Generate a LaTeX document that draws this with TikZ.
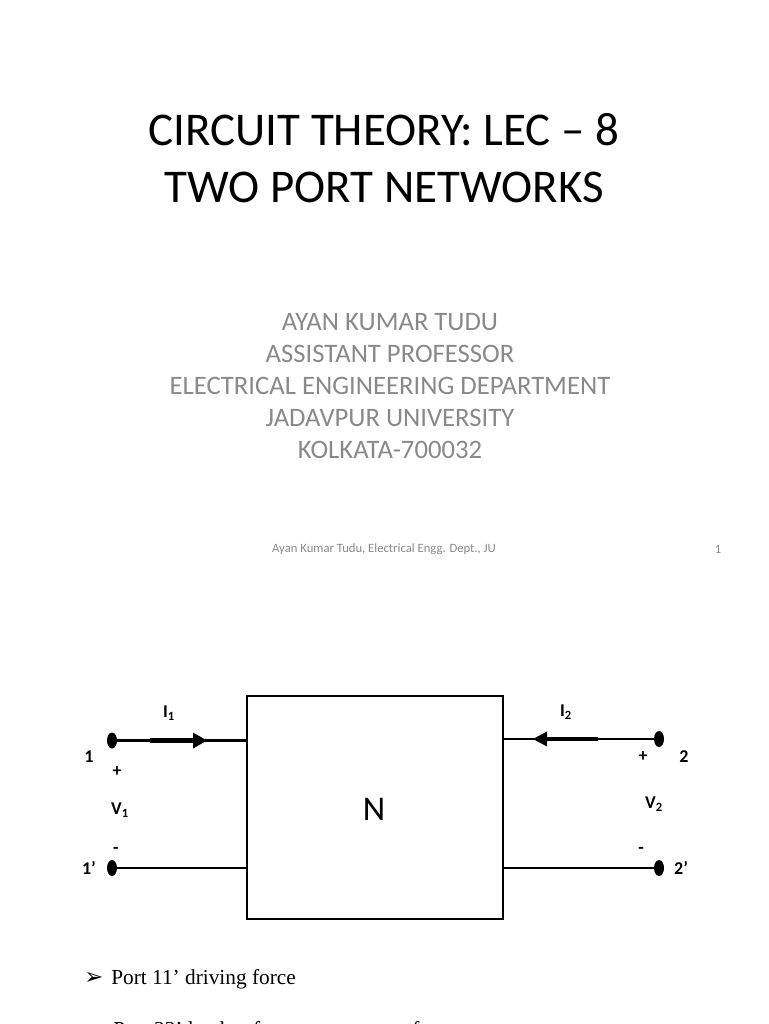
\documentclass[tikz,border=0pt]{standalone}
\usepackage{fontspec}
\setmainfont{Carlito}
\newfontfamily\serifface{Liberation Serif}
\newfontfamily\symface{DejaVu Sans}
\usetikzlibrary{arrows.meta,shapes.geometric}
\definecolor{subgray}{RGB}{137,137,137}
\definecolor{footgray}{RGB}{137,137,137}
\tikzset{
 x=0.75pt,y=-0.75pt,
 txt/.style={inner sep=0pt,anchor=center,align=center},
 titletxt/.style={txt,font=\fontsize{35.2}{42.7}\selectfont,text=black},
 subtxt/.style={txt,font=\fontsize{20}{24}\selectfont,text=subgray},
 foot/.style={txt,font=\fontsize{9.5}{11}\selectfont,text=footgray},
 lab/.style={txt,font=\bfseries\fontsize{13.5}{16}\selectfont},
 bul/.style={inner sep=0pt,anchor=base west,font=\serifface\fontsize{16}{19}\selectfont},
 bulmark/.style={bul,font=\symface\fontsize{17}{19}\selectfont},
 wire/.style={line width=2.2pt},
 term/.style={ellipse,fill=black,inner sep=0pt,minimum width=7.5pt,minimum height=12pt},
 ibar/.style={line width=3.6pt},
}
\begin{document}
\begin{tikzpicture}
\useasboundingbox (0,0) rectangle (768,1024);
\clip (0,0) rectangle (768,1024);
\node[titletxt] (t) at (384,158) {CIRCUIT THEORY: LEC – 8\\TWO PORT NETWORKS};
\node[subtxt] (s) at (390,386) {AYAN KUMAR TUDU\\ASSISTANT PROFESSOR\\ELECTRICAL ENGINEERING DEPARTMENT\\JADAVPUR UNIVERSITY\\KOLKATA-700032};
\node[foot] (f) at (384,549) {Ayan Kumar Tudu, Electrical Engg. Dept., JU};
\node[foot] (p) at (718,549) {1};
\node[draw,line width=1.8pt,minimum width=192pt,minimum height=167pt,inner sep=0pt] (N) at (375,807.5) {};
\node[txt,font=\fontsize{26}{30}\selectfont] (Nl) at (374,809) {N};
\node[term] (a) at (112,740.5) {};
\node[term] (b) at (112,868) {};
\node[term] (c) at (659,739) {};
\node[term] (d) at (659,868) {};
\coordinate (ae) at (N.west |- a);
\coordinate (be) at (N.west |- b);
\coordinate (ce) at (N.east |- c);
\coordinate (de) at (N.east |- d);
\draw[wire] (a) -- (ae);
\draw[wire] (b) -- (be);
\draw[wire] (c) -- (ce);
\draw[wire] (d) -- (de);
\coordinate (a1) at (150,740.5);
\coordinate (a2) at (194,740.5);
\coordinate (a3) at (207,740.5);
\coordinate (c1) at (598,739);
\coordinate (c2) at (546,739);
\coordinate (c3) at (533,739);
\draw[ibar] (a1) -- (a2);
\fill (193,732.5) -- (a3) -- (193,748.5) -- cycle;
\draw[ibar] (c1) -- (c2);
\fill (547,731.5) -- (c3) -- (547,746.5) -- cycle;
\node[lab] (i1) at (169,713) {I\textsubscript{1}};
\node[lab] (i2) at (566,712) {I\textsubscript{2}};
\node[lab] (n1) at (89,757) {1};
\node[lab] (n1p) at (89,868) {1’};
\node[lab] (n2) at (684,757) {2};
\node[lab] (n2p) at (681,868) {2’};
\node[lab] (pl) at (117,772) {+};
\node[lab] (mi) at (116,850) {-};
\node[lab] (pr) at (643,757) {+};
\node[lab] (mr) at (641,850) {-};
\node[lab] (v1) at (120,810) {V\textsubscript{1}};
\node[lab] (v2) at (654,804) {V\textsubscript{2}};
\node[bulmark] (b1) at (84,984) {➢};
\node[bul] (l1) at (111,984) {Port 11’ driving force};
\node[bulmark] (b2) at (84,1036) {➢};
\node[bul] (l2) at (113,1036) {Port 22’ load or for response part of};
\end{tikzpicture}
\end{document}
